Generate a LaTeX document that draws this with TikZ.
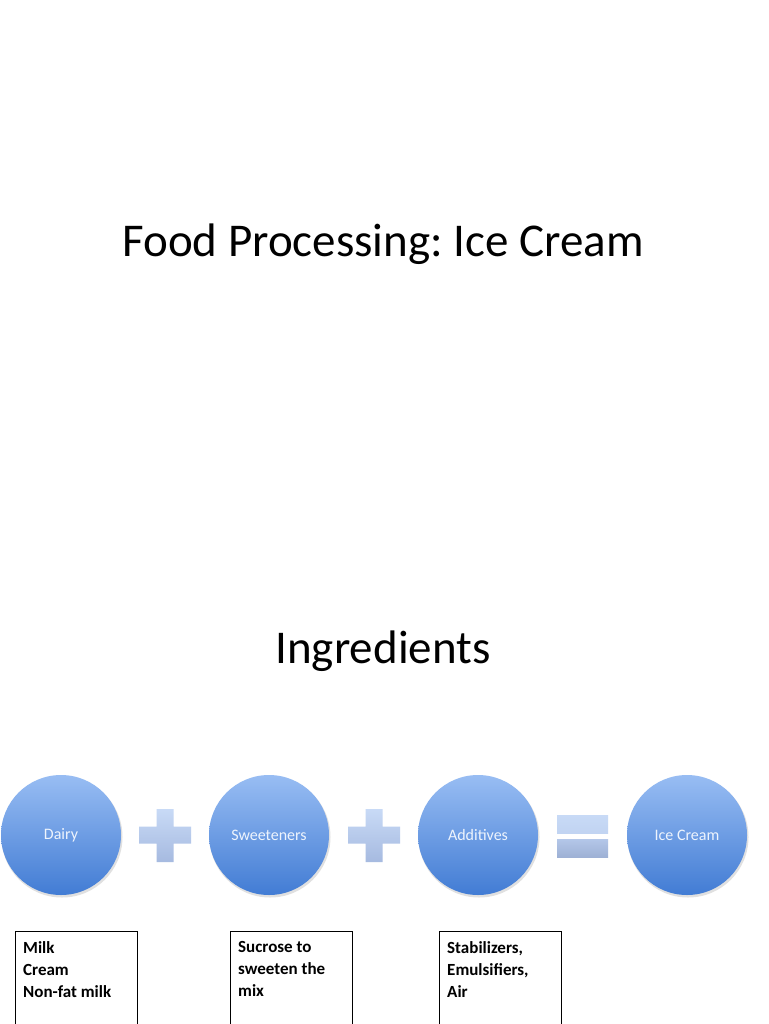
\documentclass[tikz,border=0pt]{standalone}
\usepackage{fontspec}
\setmainfont{Carlito}
\frenchspacing
\begin{document}
\begin{tikzpicture}[x=1pt,y=-1pt,
  bubble/.style={circle, minimum size=120pt, inner sep=0pt, top color=circTop, bottom color=circBot, text=circText, font=\fontsize{16}{18}\selectfont, draw=none},
  opshade/.style={top color=opTop, bottom color=opBot, draw=none},
  infobox/.style={draw=black, line width=1pt},
  infotext/.style={anchor=north west, align=left, inner sep=0pt, font=\fontsize{17}{22}\selectfont\bfseries},
  heading/.style={font=\fontsize{47}{52}\selectfont}
]
\definecolor{circTop}{RGB}{152,189,243}
\definecolor{circBot}{RGB}{66,124,212}
\definecolor{circText}{RGB}{238,244,253}
\definecolor{opTop}{RGB}{200,218,246}
\definecolor{opBot}{RGB}{166,186,224}
\useasboundingbox (0,0) rectangle (768,1024);
\fill[white] (0,0) rectangle (768,1024);

\node[heading] (title) at (383,244) {Food Processing: Ice Cream};
\node[heading] (ingr) at (383,651) {Ingredients};

% shadows
\foreach \cx in {61,269,478,687}{
  \fill[black!12] (\cx+1,837) circle (60.5);
}
\node[bubble] (dairy) at (61,835) {Dairy};
\node[bubble] (sweet) at (269,835) {Sweeteners};
\node[bubble] (addit) at (478,835) {Additives};
\node[bubble] (icecream) at (687,835) {Ice Cream};

% plus signs
\foreach \px in {165,374}{
  \shade[opshade] (\px-8.5,809) -- (\px+8.5,809) -- (\px+8.5,826.5) -- (\px+26,826.5) -- (\px+26,843.5) -- (\px+8.5,843.5) -- (\px+8.5,862) -- (\px-8.5,862) -- (\px-8.5,843.5) -- (\px-26,843.5) -- (\px-26,826.5) -- (\px-8.5,826.5) -- cycle;
}
% equals sign
\shade[top color=opTop, bottom color=opTop!80!opBot, draw=none] (557,815) rectangle (608,833);
\shade[top color=opTop!40!opBot, bottom color=opBot!95!black, draw=none] (557,839) rectangle (608,857);

% info boxes
\draw[infobox] (15,931) -- (137,931) (15,931) -- (15,1030) (137,931) -- (137,1030);
\draw[infobox] (230,931) -- (352,931) (230,931) -- (230,1030) (352,931) -- (352,1030);
\draw[infobox] (439,931) -- (561,931) (439,931) -- (439,1030) (561,931) -- (561,1030);
\node[infotext] (t1) at (23,941) {Milk\\Cream\\Non-fat milk};
\node[infotext] (t2) at (238,941) {Sucrose to\\sweeten the\\mix};
\node[infotext] (t3) at (447,941) {Stabilizers,\\Emulsifiers,\\Air};
\end{tikzpicture}
\end{document}
